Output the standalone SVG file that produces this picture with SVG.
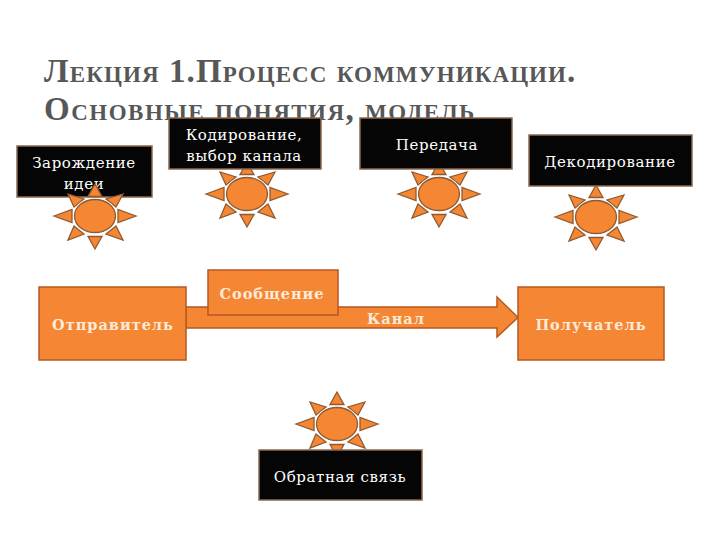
<svg xmlns="http://www.w3.org/2000/svg" xmlns:xlink="http://www.w3.org/1999/xlink" width="720" height="540" viewBox="0 0 720 540">
<style>
.title{font-family:"Liberation Serif","Times New Roman",serif;font-size:33px;font-weight:bold;font-variant:small-caps;fill:#575757;letter-spacing:1.1px}
.t2{letter-spacing:1.5px}
.dark{fill:#050505;stroke:#8a6a50;stroke-width:1.5}
.org{fill:#f58634;stroke:#b4591f;stroke-width:1.5}
.wt{font-family:"DejaVu Serif","Liberation Serif",serif;font-size:15px;letter-spacing:.6px;fill:#fff;text-anchor:middle}
.ot{font-family:"DejaVu Serif","Liberation Serif",serif;font-size:14.500px;letter-spacing:1px;font-weight:bold;fill:#fdebd8;text-anchor:middle}
.sun path,.sun ellipse{fill:#f58634;stroke:#8f5a30;stroke-width:1.3}
.sun .halo{fill:#fff;stroke:none}
</style>
<defs>
<g id="sun" class="sun">
<path d="M-41 0L-23 -6.500L-23 6.500Z"/>
<path d="M41 0L23 -6.500L23 6.500Z"/>
<path d="M0 -32L-7 -19.500L7 -19.500Z"/>
<path d="M0 33L-7 20.500L7 20.500Z"/>
<path d="M-27 -22L-21 -9L-11 -17Z"/>
<path d="M28 -22L21 -9L11 -17Z"/>
<path d="M-27 24L-21 10L-11 18Z"/>
<path d="M28 24L21 10L11 18Z"/>
<ellipse class="halo" cx="0" cy="0" rx="22" ry="18"/>
<ellipse cx="0" cy="0" rx="20.500" ry="16.500"/>
</g>
</defs>
<rect width="720" height="540" fill="#fff"/>
<g id="title">
<text class="title" x="44" y="82">Лекция 1.Процесс коммуникации.</text>
<text class="title t2" x="44" y="120">Основные понятия, модель</text>
</g>
<g id="connectors">
<path class="org" d="M186 307H497V297L518 317.500L497 337V328H186Z"/>
<text class="ot" x="396" y="324">Канал</text>
</g>
<g id="node-zarozhdenie">
<rect class="dark" x="17" y="146" width="135" height="51"/>
<text class="wt" x="84" y="168">Зарождение</text>
<text class="wt" x="84" y="189">идеи</text>
<use xlink:href="#sun" href="#sun" x="95" y="216"/>
</g>
<g id="node-kodirovanie">
<use xlink:href="#sun" href="#sun" x="247" y="194"/>
<rect class="dark" x="169" y="118" width="152" height="51"/>
<text class="wt" x="244" y="140">Кодирование,</text>
<text class="wt" x="244" y="161">выбор канала</text>
</g>
<g id="node-peredacha">
<use xlink:href="#sun" href="#sun" x="439" y="194"/>
<rect class="dark" x="360" y="118" width="152" height="51"/>
<text class="wt" x="437" y="150">Передача</text>
</g>
<g id="node-dekodirovanie">
<use xlink:href="#sun" href="#sun" x="596" y="217"/>
<rect class="dark" x="529" y="135" width="163" height="51"/>
<text class="wt" x="610" y="167">Декодирование</text>
</g>
<g id="node-otpravitel">
<rect class="org" x="39" y="287" width="147" height="73"/>
<text class="ot" x="113" y="330">Отправитель</text>
</g>
<g id="node-soobshchenie">
<rect class="org" x="208" y="270" width="130" height="45"/>
<text class="ot" x="272" y="299">Сообщение</text>
</g>
<g id="node-poluchatel">
<rect class="org" x="518" y="287" width="146" height="73"/>
<text class="ot" x="591" y="330">Получатель</text>
</g>
<g id="node-obratnaya">
<use xlink:href="#sun" href="#sun" x="337" y="424"/>
<rect class="dark" x="259" y="450" width="163" height="50"/>
<text class="wt" x="340" y="482">Обратная связь</text>
</g>
</svg>
